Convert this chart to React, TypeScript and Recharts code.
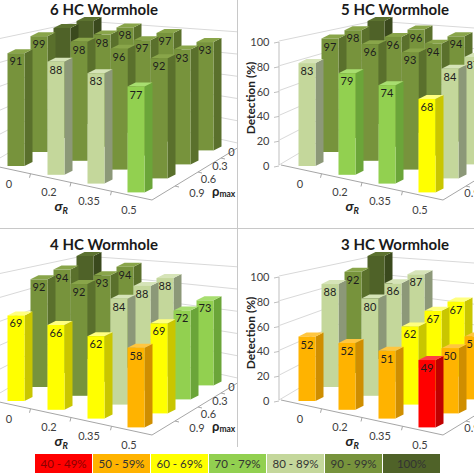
import { BarChart, Bar, XAxis, YAxis, CartesianGrid } from 'recharts'

// sigma_R categories (front axis) and rho_max rows (depth axis, front row first)
const sigmaLabels = ['0', '0.2', '0.35', '0.5']
const rhoLabels = ['0.9', '0.6', '0.3', '0']
const yTicks = [0, 20, 40, 60, 80, 100]

// detection (%) per panel: rows go rho 0.9 -> 0, values per sigma
const hc6 = [
  [91, 88, 83, 77],
  [99, 98, 96, 92],
  [100, 98, 97, 93],
  [100, 98, 97, 93],
]
const hc5 = [
  [83, 79, 74, 68],
  [97, 96, 93, 84],
  [98, 96, 94, 87],
  [100, 96, 94, 88],
]
const hc4 = [
  [69, 66, 62, 58],
  [92, 92, 84, 69],
  [94, 93, 88, 72],
  [100, 94, 88, 73],
]
const hc3 = [
  [52, 52, 51, 49],
  [88, 80, 62, 50],
  [92, 86, 67, 51],
  [100, 87, 67, 52],
]

const legendLabels = ['40 - 49%', '50 - 59%', '60 - 69%', '70 - 79%', '80 - 89%', '90 - 99%', '100%']
const frontColors = ['#ff0000', '#ffb300', '#ffff00', '#92d050', '#c4d79b', '#77933c', '#4f6228']
const sideColors = ['#c00000', '#cf8e00', '#c9c600', '#6ba539', '#8c9878', '#5a702c', '#3a491d']
const topColors = ['#ff4040', '#ffc640', '#ffff80', '#a8de70', '#d6e4b8', '#89a54a', '#5c7230']

const FONT = 'Lato, "Open Sans", sans-serif'
const PLOT_LEFT = 48.5
const PLOT_TOP = 42
const PLOT_BOTTOM = 166
const BAR_W = 17
const SIG_DY = 8.8
const ROW_DX = 23
const ROW_DY = 14
const SIDE_DX = 8
const SIDE_DY = 4

function bucket(v: number) {
  if (v >= 100) return 6
  return Math.max(0, Math.min(5, Math.floor(v / 10) - 4))
}

function Box3D(props: any) {
  const { x, y, width, height, payload, row } = props
  const value = payload[`r${row}`]
  const i = sigmaLabels.indexOf(payload.sigma)
  const f = (1.24 + 0.045 * i - 0.07 * row) / 1.24
  const bx = x + ROW_DX * row
  const by = y + height + SIG_DY * i - ROW_DY * row
  const h = height * f
  const top = by - h
  const w = width
  const c = bucket(value)
  return (
    <g>
      <polygon
        points={`${bx + w},${top} ${bx + w + SIDE_DX},${top - SIDE_DY} ${bx + w + SIDE_DX},${by - SIDE_DY} ${bx + w},${by}`}
        fill={sideColors[c]}
      />
      <polygon
        points={`${bx},${top} ${bx + SIDE_DX},${top - SIDE_DY} ${bx + w + SIDE_DX},${top - SIDE_DY} ${bx + w},${top}`}
        fill={topColors[c]}
      />
      <rect x={bx} y={top} width={w} height={h} fill={frontColors[c]} />
      {value < 100 && (
        <text x={bx + w / 2} y={top + 12} textAnchor="middle" fontSize={11} fill="#1e1e1e" fontFamily={FONT}>
          {value}
        </text>
      )}
    </g>
  )
}

// oblique wall gridline for one y tick, plus the floor on the first call
function WallLine(props: any) {
  const { x1, y1, index, rhoShift, rhoCount } = props
  const t = (PLOT_BOTTOM - y1) / (PLOT_BOTTOM - PLOT_TOP)
  const ax = x1 - 7.5
  const ay = y1 - 1
  const bx = x1 + 87.5
  const by = 109 - 88 * t
  const cx = x1 + 251.5
  const cy = by + (0.22 - 0.15 * t) * 164
  const fx0 = x1 - 5.5
  const fx1 = x1 + 156.5
  const rx = fx1 + 92
  return (
    <g>
      <polyline points={`${ax},${ay} ${bx},${by} ${cx},${cy}`} fill="none" stroke="#d9d9d9" strokeWidth={1} />
      {index === 0 && (
        <g>
          <line x1={ax} y1={PLOT_TOP} x2={ax} y2={PLOT_BOTTOM - 1} stroke="#bfbfbf" />
          <line x1={fx0} y1={165} x2={fx1} y2={200} stroke="#a6a6a6" />
          <line x1={fx1} y1={200} x2={rx} y2={144} stroke="#a6a6a6" />
          {[1, 2, 3].map((n) => {
            const tx = fx0 + (fx1 - fx0) * (n / 4)
            const ty = 165 + 35 * (n / 4)
            return <line key={'f' + n} x1={tx} y1={ty} x2={tx - 1} y2={ty + 4} stroke="#a6a6a6" />
          })}
          {[1, 2, 3].map((n) => {
            const tx = fx1 + 92 * (n / 4)
            const ty = 200 - 56 * (n / 4)
            return <line key={'r' + n} x1={tx} y1={ty} x2={tx + 4} y2={ty + 1} stroke="#a6a6a6" />
          })}
          {rhoLabels.slice(0, rhoCount).map((r, k) => (
            <text
              key={'rl' + r}
              x={x1 + 201.5 + rhoShift + 11.5 * k}
              y={197 - 13.7 * k}
              textAnchor="middle"
              fontSize={11}
              fill="#404040"
              fontFamily={FONT}
            >
              {r}
            </text>
          ))}
          {rhoCount > 1 && (
            <text x={x1 + 216.5 + rhoShift} y={195.5} fontFamily={FONT} fontWeight="bold" fill="#222">
              <tspan fontSize={13}>ρ</tspan>
              <tspan fontSize={8.5} dy={1.5}>max</tspan>
            </text>
          )}
          <text x={x1 + 59} y={211} fontFamily={FONT} fontWeight="bold" fontStyle="italic" fill="#222">
            <tspan fontSize={14}>σ</tspan>
            <tspan fontSize={9} dy={3}>R</tspan>
          </text>
        </g>
      )}
    </g>
  )
}

function SigmaTick(props: any) {
  const { x, index, payload } = props
  return (
    <text x={x - 6.5} y={187.5 + SIG_DY * index} textAnchor="middle" fontSize={11} fill="#404040" fontFamily={FONT}>
      {payload.value}
    </text>
  )
}

function ValueTick(props: any) {
  const { y, payload, show } = props
  if (!show) return <g />
  return (
    <g>
      <line x1={PLOT_LEFT - 12.5} y1={y + 1} x2={PLOT_LEFT - 7.5} y2={y} stroke="#bfbfbf" />
      <text x={PLOT_LEFT - 17} y={y + 4} textAnchor="end" fontSize={11} fill="#404040" fontFamily={FONT}>
        {payload.value}
      </text>
    </g>
  )
}

function Panel({ rows, title, left, top, width, height, shift, offsetY, showY, rhoShift, rhoCount }: any) {
  const data = sigmaLabels.map((s, i) => ({
    sigma: s,
    r0: rows[0][i],
    r1: rows[1][i],
    r2: rows[2][i],
    r3: rows[3][i],
  }))
  return (
    <div style={{ position: 'absolute', left, top, width, height, overflow: 'hidden' }}>
      <div style={{ position: 'absolute', left: shift, top: offsetY, width: 300, height: 228 }}>
        <div
          style={{
            position: 'absolute',
            left: 157 - 70,
            top: 0,
            width: 140,
            textAlign: 'center',
            fontFamily: FONT,
            fontWeight: 'bold',
            fontSize: 15,
            lineHeight: '18px',
            color: '#1a1a1a',
          }}
        >
          {title}
        </div>
        <BarChart width={300} height={228} data={data} margin={{ top: PLOT_TOP, right: 91.5, bottom: 32, left: 0 }}>
          <CartesianGrid
            vertical={false}
            horizontal={(p: any) => <WallLine {...p} key={p.key} rhoShift={rhoShift} rhoCount={rhoCount} />}
          />
          <XAxis xAxisId={0} dataKey="sigma" interval={0} axisLine={false} tickLine={false} height={30} tick={<SigmaTick />} />
          <XAxis xAxisId={1} dataKey="sigma" hide />
          <XAxis xAxisId={2} dataKey="sigma" hide />
          <XAxis xAxisId={3} dataKey="sigma" hide />
          <YAxis
            domain={[0, 100]}
            ticks={yTicks}
            width={PLOT_LEFT}
            axisLine={false}
            tickLine={false}
            tick={<ValueTick show={showY} />}
            label={
              showY
                ? {
                    content: () => (
                      <text
                        transform="translate(16.5, 98) rotate(-90)"
                        textAnchor="middle"
                        fontSize={12}
                        fontWeight="bold"
                        fill="#222"
                        fontFamily={FONT}
                      >
                        Detection (%)
                      </text>
                    ),
                  }
                : undefined
            }
          />
          {[3, 2, 1, 0].map((k) => (
            <Bar
              key={k}
              dataKey={`r${k}`}
              xAxisId={k}
              barSize={BAR_W}
              isAnimationActive={false}
              shape={(p: any) => <Box3D {...p} row={k} />}
            />
          ))}
        </BarChart>
      </div>
    </div>
  )
}

export default function App() {
  return (
    <div style={{ position: 'absolute', left: 0, top: 0, width: 474, height: 474, background: '#fff', overflow: 'hidden' }}>
      <Panel rows={hc6} title="6 HC Wormhole" left={0} top={0} width={237} height={228} shift={-53} offsetY={0} showY={false} rhoShift={0} rhoCount={4} />
      <Panel rows={hc5} title="5 HC Wormhole" left={238} top={0} width={236} height={228} shift={0} offsetY={0} showY rhoShift={-16} rhoCount={1} />
      <Panel rows={hc4} title="4 HC Wormhole" left={0} top={229} width={237} height={221} shift={-53} offsetY={6} showY={false} rhoShift={0} rhoCount={4} />
      <Panel rows={hc3} title="3 HC Wormhole" left={238} top={229} width={236} height={221} shift={0} offsetY={6} showY rhoShift={-16} rhoCount={1} />
      <div style={{ position: 'absolute', left: 236.5, top: 0, width: 1.5, height: 447, background: '#c8c8c8' }} />
      <div style={{ position: 'absolute', left: 0, top: 227.5, width: 474, height: 1.5, background: '#c8c8c8' }} />
      <div style={{ position: 'absolute', left: 35, top: 454, display: 'flex', gap: 1 }}>
        {legendLabels.map((l, i) => (
          <div
            key={l}
            style={{
              width: 57,
              height: 19,
              background: frontColors[i],
              color: i === 0 ? '#8b0000' : '#333',
              fontFamily: FONT,
              fontSize: 11.5,
              lineHeight: '19px',
              textAlign: 'center',
            }}
          >
            {l}
          </div>
        ))}
      </div>
    </div>
  )
}
